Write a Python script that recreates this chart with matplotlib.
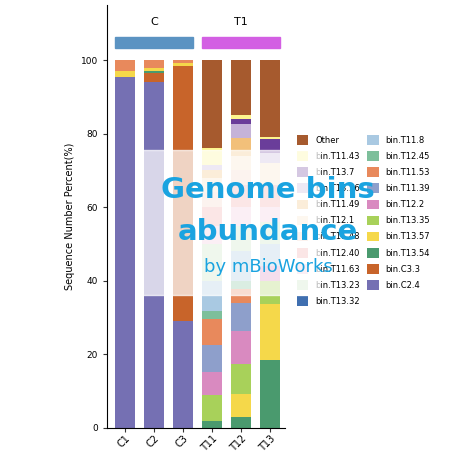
import matplotlib
matplotlib.use("Agg")
import matplotlib.pyplot as plt
from matplotlib.patches import Rectangle

samples = ["C1", "C2", "C3", "T11", "T12", "T13"]
groups = ["C", "T1"]
# bottom-to-top stacking order
bins = ["bin.C2.4", "bin.C3.3", "bin.T13.54", "bin.T13.57", "bin.T13.35", "bin.T12.2",
        "bin.T11.39", "bin.T11.53", "bin.T12.45", "bin.T11.8", "bin.T13.32", "bin.T13.23",
        "bin.T11.63", "bin.T12.40", "bin.T11.48", "bin.T12.1", "bin.T11.49", "bin.T13.36",
        "bin.T13.7", "bin.T11.43", "Other"]
colors = ["#7570b3", "#c8642a", "#4a9a6e", "#f5d84a", "#a8d15a", "#d98ac0",
          "#8e9fcb", "#e8895c", "#7dbf9b", "#a9c9e2", "#3f6fb0", "#c9e4bf",
          "#f3c6dc", "#f2a7a6", "#f6d5c8", "#fbe6c8", "#f2c07a", "#c5b3d8",
          "#6a3d9a", "#fdf58e", "#a65a2e"]
values = {
    "C1":  [95.5, 0, 0, 1.5, 0, 0, 0, 3.0, 0, 0, 0, 0, 0, 0, 0, 0, 0, 0, 0, 0, 0],
    "C2":  [94.0, 2.5, 0.5, 1.0, 0, 0, 0, 2.0, 0, 0, 0, 0, 0, 0, 0, 0, 0, 0, 0, 0, 0],
    "C3":  [29.0, 69.5, 0, 0.7, 0, 0, 0, 0.8, 0, 0, 0, 0, 0, 0, 0, 0, 0, 0, 0, 0, 0],
    "T11": [0, 0, 1.8, 0, 7.0, 6.5, 7.2, 7.0, 2.3, 8.2, 0, 10.0, 5.0, 5.0, 4.0, 4.0, 2.0, 1.5, 0, 4.5, 24.0],
    "T12": [0, 0, 3.0, 6.2, 8.1, 9.1, 7.6, 3.7, 2.3, 8.0, 0, 7.0, 5.0, 6.0, 4.0, 4.0, 4.8, 3.8, 1.4, 1.0, 15.0],
    "T13": [0, 0, 18.5, 15.1, 6.4, 4.0, 0, 0, 0, 6.0, 0, 6.0, 4.0, 6.0, 0, 6.0, 0, 2.7, 3.9, 0.6, 20.8],
}
legend_order = ["Other", "bin.T11.43", "bin.T13.7", "bin.T13.36", "bin.T11.49", "bin.T12.1",
                "bin.T11.48", "bin.T12.40", "bin.T11.63", "bin.T13.23", "bin.T13.32",
                "bin.T11.8", "bin.T12.45", "bin.T11.53", "bin.T11.39", "bin.T12.2",
                "bin.T13.35", "bin.T13.57", "bin.T13.54", "bin.C3.3", "bin.C2.4"]

fig = plt.figure(figsize=(4.74, 4.57), dpi=100)
ax = fig.add_axes([0.226, 0.064, 0.375, 0.925])
x = list(range(1, len(samples) + 1))
bottoms = [0.0] * len(samples)
handles = {}
for i, b in enumerate(bins):
    h = [values[s][i] for s in samples]
    bars = ax.bar(x, h, 0.69, bottom=bottoms, color=colors[i], label=b, linewidth=0)
    handles[b] = bars
    bottoms = [bo + hv for bo, hv in zip(bottoms, h)]

ax.set_xlim(0.38, 6.52)
ax.set_ylim(0, 115)
ax.set_yticks([0, 20, 40, 60, 80, 100])
ax.tick_params(axis="y", labelsize=6.5, length=3, color="#333333")
ax.tick_params(axis="x", length=3, pad=1, color="#333333")
ax.set_xticks(x)
ax.set_xticklabels(samples, rotation=45, fontsize=7, ha="right", rotation_mode="anchor")
ax.set_ylabel("Sequence Number Percent(%)", fontsize=7)
for sp in ["top", "right"]:
    ax.spines[sp].set_visible(False)

strip_cols = ["#5b93c2", "#d35fe3"]
for gi, (g, c) in enumerate(zip(groups, strip_cols)):
    x0 = 1 + gi * 3 - 0.345
    ax.add_patch(Rectangle((x0, 103.3), 2.69, 2.9, color=c, clip_on=False))
    ax.text(x0 + 1.345, 110.5, g, ha="center", va="center", fontsize=8)

hl = [handles[b] for b in legend_order]
ax.legend(hl, legend_order, ncol=2, loc="upper left", bbox_to_anchor=(1.025, 0.71),
          frameon=False, fontsize=6, handlelength=1.4, handleheight=1.4,
          labelspacing=0.78, columnspacing=0.9, handletextpad=0.8)

# watermark
fig.patches.append(Rectangle((140 / 474, 1 - 295 / 457), 180 / 474, 145 / 457,
                             transform=fig.transFigure, color="white", alpha=0.72, zorder=5))
fig.text(268 / 474, 1 - 190 / 457, "Genome bins", color="#1aa3e0", fontsize=21,
         fontweight="bold", ha="center", va="center", zorder=6)
fig.text(268 / 474, 1 - 232 / 457, "abundance", color="#1aa3e0", fontsize=21,
         fontweight="bold", ha="center", va="center", zorder=6)
fig.text(268 / 474, 1 - 267 / 457, "by mBioWorks", color="#1aa3e0", fontsize=13,
         ha="center", va="center", zorder=6)

fig.savefig("out.png", dpi=100)
